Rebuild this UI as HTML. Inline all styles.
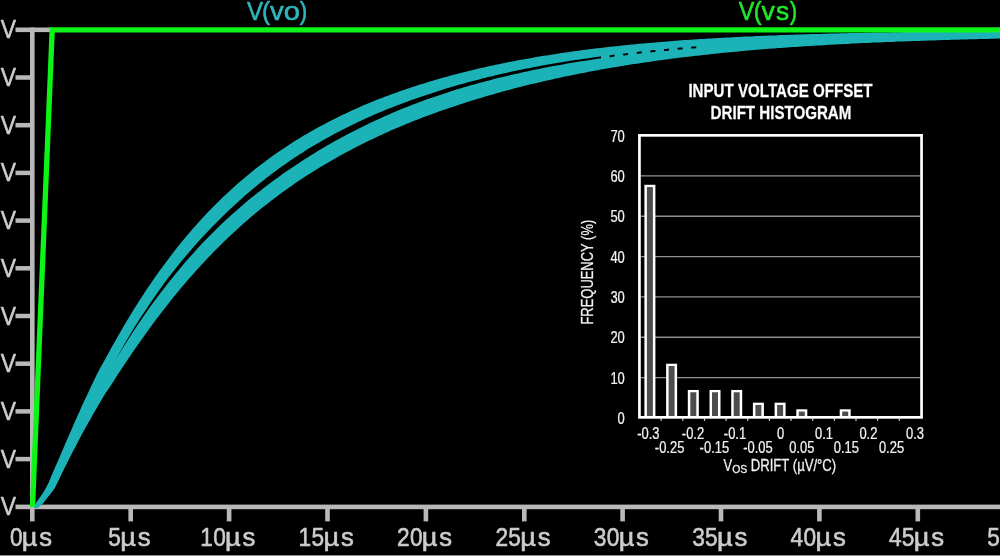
<!DOCTYPE html>
<html><head><meta charset="utf-8"><title>Settling time simulation with input voltage offset drift histogram</title>
<style>html,body{margin:0;padding:0;background:#000;}body{width:1000px;height:556px;overflow:hidden;font-family:"Liberation Sans",sans-serif;}svg{display:block;}</style>
</head><body>
<svg width="1000" height="556" viewBox="0 0 1000 556">
<defs><filter id="tn" x="-2%" y="-2%" width="104%" height="104%" color-interpolation-filters="sRGB"><feGaussianBlur stdDeviation="0.2"/></filter></defs>
<rect width="1000" height="556" fill="#000"/>
<g>
<g fill="#b9b9b9">
<rect x="15.5" y="504.6" width="985" height="4.6"/>
<rect x="30" y="27.6" width="4.6" height="493.8"/>
<rect x="15.5" y="27.5" width="36.5" height="4.6"/>
<rect x="15.5" y="75.25" width="15.5" height="4.5"/>
<rect x="15.5" y="122.95" width="15.5" height="4.5"/>
<rect x="15.5" y="170.65" width="15.5" height="4.5"/>
<rect x="15.5" y="218.35" width="15.5" height="4.5"/>
<rect x="15.5" y="266.05" width="15.5" height="4.5"/>
<rect x="15.5" y="313.75" width="15.5" height="4.5"/>
<rect x="15.5" y="361.45" width="15.5" height="4.5"/>
<rect x="15.5" y="409.15" width="15.5" height="4.5"/>
<rect x="15.5" y="456.85" width="15.5" height="4.5"/>
<rect x="128.4" y="507" width="4.6" height="14.4"/>
<rect x="226.8" y="507" width="4.6" height="14.4"/>
<rect x="325.2" y="507" width="4.6" height="14.4"/>
<rect x="423.6" y="507" width="4.6" height="14.4"/>
<rect x="522.0" y="507" width="4.6" height="14.4"/>
<rect x="620.3" y="507" width="4.6" height="14.4"/>
<rect x="718.7" y="507" width="4.6" height="14.4"/>
<rect x="817.1" y="507" width="4.6" height="14.4"/>
<rect x="915.5" y="507" width="4.6" height="14.4"/>
<rect x="1013.9" y="507" width="4.6" height="14.4"/>
</g>
<path d="M33.8,507.5 L36.8,501.6 L39.8,497.5 L42.8,493.3 L45.8,488.3 L48.8,482.2 L51.8,475.1 L54.8,468.1 L57.8,461.2 L60.8,454.2 L63.8,447.2 L66.8,440.2 L69.8,433.4 L72.8,426.6 L75.8,419.8 L78.8,412.9 L81.8,406.3 L84.8,399.8 L87.8,393.4 L90.8,387.1 L93.8,380.8 L96.8,374.6 L99.8,368.7 L102.8,363.5 L105.8,358.1 L108.8,352.5 L111.8,347.1 L114.8,341.7 L117.8,336.4 L120.8,331.2 L123.8,326.1 L126.8,321.0 L129.8,316.0 L132.8,311.1 L135.8,306.3 L138.8,301.6 L141.8,296.9 L144.8,292.3 L147.8,287.8 L150.8,283.4 L153.8,279.1 L156.8,274.8 L159.8,270.6 L162.8,266.4 L165.8,262.4 L168.8,258.4 L171.8,254.4 L174.8,250.6 L177.8,246.8 L180.8,243.1 L183.8,239.4 L186.8,235.8 L189.8,232.3 L192.8,228.8 L195.8,225.4 L198.8,222.0 L201.8,218.7 L204.8,215.5 L207.8,212.3 L210.8,209.2 L213.8,206.2 L216.8,203.2 L219.8,200.2 L222.8,197.3 L225.8,194.4 L228.8,191.7 L231.8,188.9 L234.8,186.2 L237.8,183.5 L240.8,180.9 L243.8,178.4 L246.8,175.9 L249.8,173.4 L252.8,171.0 L255.8,168.6 L258.8,166.3 L261.8,164.0 L264.8,161.7 L267.8,159.5 L270.8,157.3 L273.8,155.1 L276.8,153.0 L279.8,151.0 L282.8,148.9 L285.8,146.9 L288.8,145.0 L291.8,143.0 L294.8,141.1 L297.8,139.3 L300.8,137.4 L303.8,135.6 L306.8,133.9 L309.8,132.1 L312.8,130.4 L315.8,128.7 L318.8,127.1 L321.8,125.5 L324.8,123.9 L327.8,122.3 L330.8,120.7 L333.8,119.2 L336.8,117.7 L339.8,116.2 L342.8,114.8 L345.8,113.4 L348.8,112.0 L351.8,110.6 L354.8,109.2 L357.8,107.9 L360.8,106.6 L363.8,105.3 L366.8,104.0 L369.8,102.8 L372.8,101.5 L375.8,100.3 L378.8,99.1 L381.8,98.0 L384.8,96.8 L387.8,95.7 L390.8,94.6 L393.8,93.5 L396.8,92.4 L399.8,91.3 L402.8,90.3 L405.8,89.2 L408.8,88.2 L411.8,87.2 L414.8,86.2 L417.8,85.3 L420.8,84.3 L423.8,83.4 L426.8,82.5 L429.8,81.6 L432.8,80.7 L435.8,79.8 L438.8,78.9 L441.8,78.1 L444.8,77.2 L447.8,76.4 L450.8,75.6 L453.8,74.8 L456.8,74.0 L459.8,73.2 L462.8,72.5 L465.8,71.7 L468.8,71.0 L471.8,70.2 L474.8,69.5 L477.8,68.8 L480.8,68.1 L483.8,67.4 L486.8,66.8 L489.8,66.1 L492.8,65.4 L495.8,64.8 L498.8,64.2 L501.8,63.6 L504.8,62.9 L507.8,62.3 L510.8,61.7 L513.8,61.2 L516.8,60.6 L519.8,60.0 L522.8,59.5 L525.8,58.9 L528.8,58.4 L531.8,57.9 L534.8,57.3 L537.8,56.8 L540.8,56.3 L543.8,55.8 L546.8,55.4 L549.8,54.9 L552.8,54.4 L555.8,53.9 L558.8,53.5 L561.8,53.0 L564.8,52.6 L567.8,52.2 L570.8,51.7 L573.8,51.3 L576.8,50.9 L579.8,50.5 L582.8,50.1 L585.8,49.7 L588.8,49.3 L591.8,49.0 L594.8,48.6 L597.8,48.2 L600.8,47.9 L603.8,47.5 L606.8,47.2 L609.8,46.8 L612.8,46.5 L615.8,46.2 L618.8,45.9 L621.8,45.6 L624.8,45.2 L627.8,44.9 L630.8,44.6 L633.8,44.4 L636.8,44.1 L639.8,43.8 L642.8,43.5 L645.8,43.2 L648.8,43.0 L651.8,42.7 L654.8,42.4 L657.8,42.2 L660.8,41.9 L663.8,41.7 L666.8,41.5 L669.8,41.2 L672.8,41.0 L675.8,40.8 L678.8,40.6 L681.8,40.3 L684.8,40.1 L687.8,39.9 L690.8,39.7 L693.8,39.5 L696.8,39.3 L699.8,39.1 L702.8,38.9 L705.8,38.7 L708.8,38.6 L711.8,38.4 L714.8,38.2 L717.8,38.0 L720.8,37.9 L723.8,37.7 L726.8,37.5 L729.8,37.4 L732.8,37.2 L735.8,37.1 L738.8,36.9 L741.8,36.8 L744.8,36.6 L747.8,36.5 L750.8,36.4 L753.8,36.2 L756.8,36.1 L759.8,36.0 L762.8,35.8 L765.8,35.7 L768.8,35.6 L771.8,35.5 L774.8,35.4 L777.8,35.3 L780.8,35.1 L783.8,35.0 L786.8,34.9 L789.8,34.8 L792.8,34.7 L795.8,34.6 L798.8,34.5 L801.8,34.4 L804.8,34.3 L807.8,34.2 L810.8,34.1 L813.8,34.1 L816.8,34.0 L819.8,33.9 L822.8,33.8 L825.8,33.7 L828.8,33.6 L831.8,33.6 L834.8,33.5 L837.8,33.4 L840.8,33.3 L843.8,33.3 L846.8,33.2 L849.8,33.1 L852.8,33.1 L855.8,33.0 L858.8,32.9 L861.8,32.9 L864.8,32.8 L867.8,32.7 L870.8,32.7 L873.8,32.6 L876.8,32.6 L879.8,32.5 L882.8,32.5 L885.8,32.4 L888.8,32.4 L891.8,32.3 L894.8,32.3 L897.8,32.2 L900.8,32.2 L903.8,32.1 L906.8,32.1 L909.8,32.0 L912.8,32.0 L915.8,31.9 L918.8,31.9 L921.8,31.9 L924.8,31.8 L927.8,31.8 L930.8,31.7 L933.8,31.7 L936.8,31.7 L939.8,31.6 L942.8,31.6 L945.8,31.5 L948.8,31.5 L951.8,31.5 L954.8,31.4 L957.8,31.4 L960.8,31.4 L963.8,31.3 L966.8,31.3 L969.8,31.3 L972.8,31.3 L975.8,31.2 L978.8,31.2 L981.8,31.2 L984.8,31.1 L987.8,31.1 L990.8,31.1 L993.8,31.1 L996.8,31.0 L999.8,31.0 L1002.8,31.0 L1005.8,31.0 L1005.8,38.4 L1002.8,38.5 L999.8,38.6 L996.8,38.6 L993.8,38.7 L990.8,38.8 L987.8,38.9 L984.8,39.0 L981.8,39.0 L978.8,39.1 L975.8,39.2 L972.8,39.3 L969.8,39.3 L966.8,39.4 L963.8,39.5 L960.8,39.6 L957.8,39.7 L954.8,39.8 L951.8,39.8 L948.8,39.9 L945.8,40.0 L942.8,40.1 L939.8,40.2 L936.8,40.3 L933.8,40.4 L930.8,40.5 L927.8,40.6 L924.8,40.7 L921.8,40.8 L918.8,40.9 L915.8,41.0 L912.8,41.1 L909.8,41.2 L906.8,41.3 L903.8,41.4 L900.8,41.5 L897.8,41.6 L894.8,41.8 L891.8,41.9 L888.8,42.0 L885.8,42.1 L882.8,42.2 L879.8,42.4 L876.8,42.5 L873.8,42.6 L870.8,42.7 L867.8,42.9 L864.8,43.0 L861.8,43.1 L858.8,43.3 L855.8,43.4 L852.8,43.6 L849.8,43.7 L846.8,43.9 L843.8,44.0 L840.8,44.2 L837.8,44.3 L834.8,44.5 L831.8,44.7 L828.8,44.8 L825.8,45.0 L822.8,45.2 L819.8,45.4 L816.8,45.5 L813.8,45.7 L810.8,45.9 L807.8,46.1 L804.8,46.3 L801.8,46.5 L798.8,46.7 L795.8,46.9 L792.8,47.1 L789.8,47.3 L786.8,47.5 L783.8,47.7 L780.8,47.9 L777.8,48.1 L774.8,48.4 L771.8,48.6 L768.8,48.8 L765.8,49.1 L762.8,49.3 L759.8,49.6 L756.8,49.8 L753.8,50.1 L750.8,50.3 L747.8,50.6 L744.8,50.8 L741.8,51.1 L738.8,51.4 L735.8,51.7 L732.8,51.9 L729.8,52.2 L726.8,52.5 L723.8,52.8 L720.8,53.1 L717.8,53.4 L714.8,53.7 L711.8,54.0 L708.8,54.4 L705.8,54.7 L702.8,55.0 L699.8,55.4 L696.8,55.7 L693.8,56.0 L690.8,56.4 L687.8,56.7 L684.8,57.1 L681.8,57.5 L678.8,57.8 L675.8,58.2 L672.8,58.6 L669.8,59.0 L666.8,59.4 L663.8,59.8 L660.8,60.2 L657.8,60.6 L654.8,61.0 L651.8,61.4 L648.8,61.9 L645.8,62.3 L642.8,62.7 L639.8,63.2 L636.8,63.7 L633.8,64.1 L630.8,64.6 L627.8,65.1 L624.8,65.5 L621.8,66.0 L618.8,66.5 L615.8,67.0 L612.8,67.5 L609.8,68.0 L606.8,68.6 L603.8,69.1 L600.8,69.6 L597.8,70.2 L594.8,70.7 L591.8,71.3 L588.8,71.8 L585.8,72.4 L582.8,73.0 L579.8,73.6 L576.8,74.2 L573.8,74.8 L570.8,75.4 L567.8,76.0 L564.8,76.6 L561.8,77.3 L558.8,77.9 L555.8,78.6 L552.8,79.2 L549.8,79.9 L546.8,80.6 L543.8,81.3 L540.8,82.0 L537.8,82.7 L534.8,83.4 L531.8,84.1 L528.8,84.8 L525.8,85.6 L522.8,86.3 L519.8,87.1 L516.8,87.8 L513.8,88.6 L510.8,89.4 L507.8,90.2 L504.8,91.0 L501.8,91.8 L498.8,92.7 L495.8,93.5 L492.8,94.4 L489.8,95.2 L486.8,96.1 L483.8,97.0 L480.8,97.9 L477.8,98.8 L474.8,99.7 L471.8,100.6 L468.8,101.5 L465.8,102.5 L462.8,103.5 L459.8,104.4 L456.8,105.4 L453.8,106.4 L450.8,107.4 L447.8,108.5 L444.8,109.5 L441.8,110.5 L438.8,111.6 L435.8,112.7 L432.8,113.8 L429.8,114.9 L426.8,116.0 L423.8,117.1 L420.8,118.3 L417.8,119.5 L414.8,120.6 L411.8,121.8 L408.8,123.0 L405.8,124.3 L402.8,125.5 L399.8,126.8 L396.8,128.0 L393.8,129.3 L390.8,130.6 L387.8,132.0 L384.8,133.3 L381.8,134.7 L378.8,136.1 L375.8,137.5 L372.8,138.9 L369.8,140.3 L366.8,141.8 L363.8,143.2 L360.8,144.7 L357.8,146.3 L354.8,147.8 L351.8,149.4 L348.8,150.9 L345.8,152.5 L342.8,154.2 L339.8,155.8 L336.8,157.5 L333.8,159.2 L330.8,160.9 L327.8,162.7 L324.8,164.4 L321.8,166.2 L318.8,168.0 L315.8,169.9 L312.8,171.8 L309.8,173.7 L306.8,175.6 L303.8,177.5 L300.8,179.5 L297.8,181.5 L294.8,183.6 L291.8,185.7 L288.8,187.8 L285.8,189.9 L282.8,192.1 L279.8,194.3 L276.8,196.5 L273.8,198.7 L270.8,201.0 L267.8,203.4 L264.8,205.7 L261.8,208.1 L258.8,210.6 L255.8,213.1 L252.8,215.6 L249.8,218.1 L246.8,220.7 L243.8,223.3 L240.8,226.0 L237.8,228.7 L234.8,231.4 L231.8,234.2 L228.8,237.1 L225.8,239.9 L222.8,242.8 L219.8,245.8 L216.8,248.8 L213.8,251.8 L210.8,254.9 L207.8,258.0 L204.8,261.2 L201.8,264.5 L198.8,267.7 L195.8,271.0 L192.8,274.4 L189.8,277.8 L186.8,281.3 L183.8,284.8 L180.8,288.3 L177.8,292.0 L174.8,295.6 L171.8,299.3 L168.8,303.1 L165.8,306.9 L162.8,310.7 L159.8,314.7 L156.8,318.6 L153.8,322.6 L150.8,326.7 L147.8,330.8 L144.8,335.0 L141.8,339.2 L138.8,343.4 L135.8,347.7 L132.8,352.1 L129.8,356.5 L126.8,361.0 L123.8,365.5 L120.8,370.0 L117.8,374.6 L114.8,379.2 L111.8,384.0 L108.8,388.4 L105.8,392.8 L102.8,397.8 L99.8,402.8 L96.8,407.9 L93.8,413.1 L90.8,418.4 L87.8,423.7 L84.8,429.1 L81.8,434.6 L78.8,440.2 L75.8,445.9 L72.8,451.8 L69.8,457.6 L66.8,463.6 L63.8,469.6 L60.8,475.8 L57.8,482.1 L54.8,488.0 L51.8,492.3 L48.8,496.0 L45.8,499.8 L42.8,503.4 L39.8,506.2 L36.8,508.5Z" fill="#1bb3b8"/>
<path d="M116.0,359.2 L119.0,353.7 L122.0,348.4 L125.0,343.1 L128.0,338.0 L131.0,333.0 L134.0,328.1 L137.0,323.3 L140.0,318.6 L143.0,314.0 L146.0,309.4 L149.0,304.9 L152.0,300.5 L155.0,296.2 L158.0,291.9 L161.0,287.7 L164.0,283.6 L167.0,279.6 L170.0,275.6 L173.0,271.8 L176.0,268.0 L179.0,264.2 L182.0,260.6 L185.0,257.0 L188.0,253.4 L191.0,249.9 L194.0,246.5 L197.0,243.1 L200.0,239.8 L203.0,236.5 L206.0,233.3 L209.0,230.2 L212.0,227.0 L215.0,223.9 L218.0,220.9 L221.0,217.9 L224.0,215.0 L227.0,212.1 L230.0,209.2 L233.0,206.4 L236.0,203.7 L239.0,200.9 L242.0,198.3 L245.0,195.6 L248.0,193.0 L251.0,190.5 L254.0,188.0 L257.0,185.5 L260.0,183.1 L263.0,180.7 L266.0,178.3 L269.0,176.0 L272.0,173.7 L275.0,171.5 L278.0,169.3 L281.0,167.1 L284.0,165.0 L287.0,162.9 L290.0,160.8 L293.0,158.8 L296.0,156.8 L299.0,154.8 L302.0,152.9 L305.0,151.0 L308.0,149.1 L311.0,147.3 L314.0,145.5 L317.0,143.7 L320.0,142.0 L323.0,140.2 L326.0,138.6 L329.0,136.9 L332.0,135.3 L335.0,133.6 L338.0,132.1 L341.0,130.5 L344.0,129.0 L347.0,127.4 L350.0,126.0 L353.0,124.5 L356.0,123.0 L359.0,121.6 L362.0,120.2 L365.0,118.8 L368.0,117.5 L371.0,116.2 L374.0,114.8 L377.0,113.6 L380.0,112.3 L383.0,111.1 L386.0,109.8 L389.0,108.6 L392.0,107.4 L395.0,106.3 L398.0,105.1 L401.0,104.0 L404.0,102.8 L407.0,101.7 L410.0,100.6 L413.0,99.5 L416.0,98.5 L419.0,97.4 L422.0,96.4 L425.0,95.4 L428.0,94.4 L431.0,93.4 L434.0,92.4 L437.0,91.4 L440.0,90.5 L443.0,89.5 L446.0,88.6 L449.0,87.7 L452.0,86.8 L455.0,86.0 L458.0,85.1 L461.0,84.2 L464.0,83.4 L467.0,82.6 L470.0,81.8 L473.0,81.0 L476.0,80.2 L479.0,79.4 L482.0,78.6 L485.0,77.9 L488.0,77.1 L491.0,76.4 L494.0,75.7 L497.0,75.0 L500.0,74.3 L503.0,73.6 L506.0,72.9 L509.0,72.3 L512.0,71.6 L515.0,71.0 L518.0,70.3 L521.0,69.7 L524.0,69.1 L527.0,68.5 L530.0,67.9 L533.0,67.3 L536.0,66.8 L539.0,66.2 L542.0,65.6 L545.0,65.1 L548.0,64.6 L551.0,64.0 L554.0,63.5 L557.0,63.0 L560.0,62.5 L563.0,62.0 L566.0,61.5 L569.0,61.1 L572.0,60.6 L575.0,60.1 L578.0,59.7 L581.0,59.2 L584.0,58.8 L587.0,58.4 L590.0,57.9 L593.0,57.5 L596.0,57.1 L596.0,59.0 L593.0,59.5 L590.0,59.9 L587.0,60.4 L584.0,60.9 L581.0,61.3 L578.0,61.8 L575.0,62.3 L572.0,62.8 L569.0,63.3 L566.0,63.8 L563.0,64.4 L560.0,64.9 L557.0,65.5 L554.0,66.0 L551.0,66.6 L548.0,67.1 L545.0,67.7 L542.0,68.3 L539.0,68.9 L536.0,69.5 L533.0,70.1 L530.0,70.8 L527.0,71.4 L524.0,72.0 L521.0,72.7 L518.0,73.4 L515.0,74.1 L512.0,74.7 L509.0,75.4 L506.0,76.2 L503.0,76.9 L500.0,77.6 L497.0,78.3 L494.0,79.1 L491.0,79.9 L488.0,80.7 L485.0,81.4 L482.0,82.2 L479.0,83.1 L476.0,83.9 L473.0,84.7 L470.0,85.6 L467.0,86.5 L464.0,87.3 L461.0,88.2 L458.0,89.1 L455.0,90.1 L452.0,91.0 L449.0,91.9 L446.0,92.9 L443.0,93.9 L440.0,94.9 L437.0,95.9 L434.0,96.9 L431.0,98.0 L428.0,99.0 L425.0,100.1 L422.0,101.2 L419.0,102.3 L416.0,103.4 L413.0,104.6 L410.0,105.7 L407.0,106.9 L404.0,108.1 L401.0,109.3 L398.0,110.6 L395.0,111.8 L392.0,113.1 L389.0,114.4 L386.0,115.7 L383.0,117.1 L380.0,118.4 L377.0,119.8 L374.0,121.2 L371.0,122.6 L368.0,124.0 L365.0,125.5 L362.0,127.0 L359.0,128.4 L356.0,129.9 L353.0,131.5 L350.0,133.0 L347.0,134.6 L344.0,136.2 L341.0,137.8 L338.0,139.5 L335.0,141.1 L332.0,142.8 L329.0,144.5 L326.0,146.3 L323.0,148.0 L320.0,149.8 L317.0,151.6 L314.0,153.4 L311.0,155.3 L308.0,157.2 L305.0,159.1 L302.0,161.0 L299.0,163.0 L296.0,165.0 L293.0,167.0 L290.0,169.0 L287.0,171.1 L284.0,173.1 L281.0,175.3 L278.0,177.4 L275.0,179.6 L272.0,181.8 L269.0,184.0 L266.0,186.3 L263.0,188.6 L260.0,190.9 L257.0,193.3 L254.0,195.7 L251.0,198.1 L248.0,200.6 L245.0,203.1 L242.0,205.7 L239.0,208.2 L236.0,210.9 L233.0,213.5 L230.0,216.2 L227.0,219.0 L224.0,221.8 L221.0,224.6 L218.0,227.5 L215.0,230.4 L212.0,233.4 L209.0,236.4 L206.0,239.5 L203.0,242.6 L200.0,245.8 L197.0,249.1 L194.0,252.4 L191.0,255.7 L188.0,259.1 L185.0,262.6 L182.0,266.1 L179.0,269.7 L176.0,273.3 L173.0,277.0 L170.0,280.7 L167.0,284.5 L164.0,288.4 L161.0,292.2 L158.0,296.2 L155.0,300.2 L152.0,304.3 L149.0,308.5 L146.0,312.7 L143.0,317.0 L140.0,321.5 L137.0,325.9 L134.0,330.5 L131.0,335.1 L128.0,339.8 L125.0,344.5 L122.0,349.3 L119.0,354.2 L116.0,359.2Z" fill="#000"/>
<path d="M596.0,58.1 L598.0,57.8 L600.0,57.5 L602.0,57.2 L604.0,57.0 L606.0,56.7 L608.0,56.4 L610.0,56.2 L612.0,55.9 L614.0,55.6 L616.0,55.4 L618.0,55.1 L620.0,54.9 L622.0,54.6 L624.0,54.4 L626.0,54.2 L628.0,53.9 L630.0,53.7 L632.0,53.4 L634.0,53.2 L636.0,53.0 L638.0,52.8 L640.0,52.5 L642.0,52.3 L644.0,52.1 L646.0,51.9 L648.0,51.7 L650.0,51.5 L652.0,51.3 L654.0,51.1 L656.0,50.9 L658.0,50.7 L660.0,50.5 L662.0,50.3 L664.0,50.1 L666.0,49.9 L668.0,49.7 L670.0,49.5 L672.0,49.3 L674.0,49.1 L676.0,49.0 L678.0,48.8 L680.0,48.6 L682.0,48.4 L684.0,48.3 L686.0,48.1 L688.0,47.9 L690.0,47.8 L692.0,47.6 L694.0,47.4 L696.0,47.3 L698.0,47.1" fill="none" stroke="#000" stroke-width="2" stroke-dasharray="5 8.7"/>
<path d="M32.5,507 L52.2,29.8 L1006,29.8" fill="none" stroke="#0cf516" stroke-width="5.3" stroke-linejoin="miter"/>
<g font-family="Liberation Sans, sans-serif" font-size="26.4" fill="#cccccc" stroke="#cccccc" stroke-width="0.6" stroke-linejoin="round" filter="url(#tn)">
<text transform="translate(0.81 38.30) scale(0.868 1)">V</text>
<text transform="translate(0.81 86.00) scale(0.868 1)">V</text>
<text transform="translate(0.81 133.70) scale(0.868 1)">V</text>
<text transform="translate(0.81 181.40) scale(0.868 1)">V</text>
<text transform="translate(0.81 229.10) scale(0.868 1)">V</text>
<text transform="translate(0.81 276.80) scale(0.868 1)">V</text>
<text transform="translate(0.81 324.50) scale(0.868 1)">V</text>
<text transform="translate(0.81 372.20) scale(0.868 1)">V</text>
<text transform="translate(0.81 419.90) scale(0.868 1)">V</text>
<text transform="translate(0.81 467.60) scale(0.868 1)">V</text>
<text transform="translate(0.81 515.30) scale(0.868 1)">V</text>
<text transform="translate(9.90 546.4) scale(0.86 1)">0</text>
<text transform="translate(21.85 546.40) scale(1.029 1)">µ</text>
<text transform="translate(39.31 546.40) scale(0.971 1)">s</text>
<text transform="translate(108.29 546.4) scale(0.86 1)">5</text>
<text transform="translate(120.24 546.40) scale(1.029 1)">µ</text>
<text transform="translate(137.70 546.40) scale(0.971 1)">s</text>
<text transform="translate(200.23 546.4) scale(0.86 1)">1</text>
<text transform="translate(213.13 546.4) scale(0.86 1)">0</text>
<text transform="translate(225.08 546.40) scale(1.029 1)">µ</text>
<text transform="translate(242.54 546.40) scale(0.971 1)">s</text>
<text transform="translate(298.62 546.4) scale(0.86 1)">1</text>
<text transform="translate(311.52 546.4) scale(0.86 1)">5</text>
<text transform="translate(323.47 546.40) scale(1.029 1)">µ</text>
<text transform="translate(340.93 546.40) scale(0.971 1)">s</text>
<text transform="translate(397.01 546.4) scale(0.86 1)">2</text>
<text transform="translate(409.91 546.4) scale(0.86 1)">0</text>
<text transform="translate(421.86 546.40) scale(1.029 1)">µ</text>
<text transform="translate(439.32 546.40) scale(0.971 1)">s</text>
<text transform="translate(495.40 546.4) scale(0.86 1)">2</text>
<text transform="translate(508.30 546.4) scale(0.86 1)">5</text>
<text transform="translate(520.25 546.40) scale(1.029 1)">µ</text>
<text transform="translate(537.71 546.40) scale(0.971 1)">s</text>
<text transform="translate(593.79 546.4) scale(0.86 1)">3</text>
<text transform="translate(606.69 546.4) scale(0.86 1)">0</text>
<text transform="translate(618.64 546.40) scale(1.029 1)">µ</text>
<text transform="translate(636.10 546.40) scale(0.971 1)">s</text>
<text transform="translate(692.18 546.4) scale(0.86 1)">3</text>
<text transform="translate(705.08 546.4) scale(0.86 1)">5</text>
<text transform="translate(717.03 546.40) scale(1.029 1)">µ</text>
<text transform="translate(734.49 546.40) scale(0.971 1)">s</text>
<text transform="translate(790.57 546.4) scale(0.86 1)">4</text>
<text transform="translate(803.47 546.4) scale(0.86 1)">0</text>
<text transform="translate(815.42 546.40) scale(1.029 1)">µ</text>
<text transform="translate(832.88 546.40) scale(0.971 1)">s</text>
<text transform="translate(888.96 546.4) scale(0.86 1)">4</text>
<text transform="translate(901.86 546.4) scale(0.86 1)">5</text>
<text transform="translate(913.81 546.40) scale(1.029 1)">µ</text>
<text transform="translate(931.27 546.40) scale(0.971 1)">s</text>
<text transform="translate(987.35 546.4) scale(0.86 1)">5</text>
<text transform="translate(1000.25 546.4) scale(0.86 1)">0</text>
<text transform="translate(1012.20 546.40) scale(1.029 1)">µ</text>
<text transform="translate(1029.66 546.40) scale(0.971 1)">s</text>
</g>
<g font-family="Liberation Sans, sans-serif" font-size="26.4" stroke-width="0.6" stroke-linejoin="round" filter="url(#tn)">
<text transform="translate(246.90 19.70) scale(0.914 1)" fill="#2fb6bc" stroke="#2fb6bc">V</text>
<text transform="translate(261.98 19.70) scale(0.926 1)" fill="#2fb6bc" stroke="#2fb6bc">(</text>
<text transform="translate(270.12 19.70) scale(1.043 1)" fill="#2fb6bc" stroke="#2fb6bc">v</text>
<text transform="translate(283.67 19.70) scale(1.105 1)" fill="#2fb6bc" stroke="#2fb6bc">o</text>
<text transform="translate(299.69 19.70) scale(0.854 1)" fill="#2fb6bc" stroke="#2fb6bc">)</text>
<text transform="translate(738.71 19.70) scale(0.885 1)" fill="#1fe82a" stroke="#1fe82a">V</text>
<text transform="translate(753.63 19.70) scale(0.897 1)" fill="#1fe82a" stroke="#1fe82a">(</text>
<text transform="translate(761.62 19.70) scale(1.012 1)" fill="#1fe82a" stroke="#1fe82a">v</text>
<text transform="translate(775.89 19.70) scale(0.997 1)" fill="#1fe82a" stroke="#1fe82a">s</text>
<text transform="translate(789.69 19.70) scale(0.854 1)" fill="#1fe82a" stroke="#1fe82a">)</text>
</g>
</g>
<g>
<g stroke="#909090" stroke-width="1.4">
<line x1="640.8000000000001" x2="920.1999999999999" y1="377.6" y2="377.6"/>
<line x1="640.8000000000001" x2="920.1999999999999" y1="337.3" y2="337.3"/>
<line x1="640.8000000000001" x2="920.1999999999999" y1="296.9" y2="296.9"/>
<line x1="640.8000000000001" x2="920.1999999999999" y1="256.6" y2="256.6"/>
<line x1="640.8000000000001" x2="920.1999999999999" y1="216.2" y2="216.2"/>
<line x1="640.8000000000001" x2="920.1999999999999" y1="175.9" y2="175.9"/>
</g>
<rect x="644.40" y="184.78" width="11" height="232.92" fill="#fff"/>
<rect x="646.90" y="187.08" width="6.00" height="228.92" fill="#4d4d4d"/>
<rect x="666.10" y="363.73" width="11" height="53.97" fill="#fff"/>
<rect x="668.60" y="366.03" width="6.00" height="49.97" fill="#4d4d4d"/>
<rect x="687.80" y="389.96" width="11" height="27.74" fill="#fff"/>
<rect x="690.30" y="392.26" width="6.00" height="23.74" fill="#4d4d4d"/>
<rect x="709.50" y="389.96" width="11" height="27.74" fill="#fff"/>
<rect x="712.00" y="392.26" width="6.00" height="23.74" fill="#4d4d4d"/>
<rect x="731.20" y="389.96" width="11" height="27.74" fill="#fff"/>
<rect x="733.70" y="392.26" width="6.00" height="23.74" fill="#4d4d4d"/>
<rect x="752.90" y="402.67" width="11" height="15.03" fill="#fff"/>
<rect x="755.40" y="404.97" width="6.00" height="11.03" fill="#4d4d4d"/>
<rect x="774.60" y="402.67" width="11" height="15.03" fill="#fff"/>
<rect x="777.10" y="404.97" width="6.00" height="11.03" fill="#4d4d4d"/>
<rect x="796.30" y="409.28" width="11" height="8.42" fill="#fff"/>
<rect x="798.80" y="411.58" width="6.00" height="4.42" fill="#4d4d4d"/>
<rect x="839.70" y="409.28" width="11" height="8.42" fill="#fff"/>
<rect x="842.20" y="411.58" width="6.00" height="4.42" fill="#4d4d4d"/>
<rect x="639.45" y="135.35" width="282.10" height="282.00" fill="none" stroke="#fff" stroke-width="2.7"/>
<rect x="660.5" y="418.2" width="1.2" height="2.6" fill="#ddd"/>
<rect x="682.2" y="418.2" width="1.2" height="2.6" fill="#ddd"/>
<rect x="703.9" y="418.2" width="1.2" height="2.6" fill="#ddd"/>
<rect x="725.5" y="418.2" width="1.2" height="2.6" fill="#ddd"/>
<rect x="747.1" y="418.2" width="1.2" height="2.6" fill="#ddd"/>
<rect x="768.8" y="418.2" width="1.2" height="2.6" fill="#ddd"/>
<rect x="790.4" y="418.2" width="1.2" height="2.6" fill="#ddd"/>
<rect x="812.1" y="418.2" width="1.2" height="2.6" fill="#ddd"/>
<rect x="833.8" y="418.2" width="1.2" height="2.6" fill="#ddd"/>
<rect x="855.4" y="418.2" width="1.2" height="2.6" fill="#ddd"/>
<rect x="877.0" y="418.2" width="1.2" height="2.6" fill="#ddd"/>
<rect x="898.7" y="418.2" width="1.2" height="2.6" fill="#ddd"/>
<g font-family="Liberation Sans, sans-serif" stroke="#f2f2f2" stroke-width="0.25" filter="url(#tn)">
<text x="780.5" y="97.4" text-anchor="middle" font-size="18.4" font-weight="bold" fill="#fff" transform="translate(780.5 0) scale(0.822 1) translate(-780.5 0)">INPUT VOLTAGE OFFSET</text>
<text x="781.0" y="119.4" text-anchor="middle" font-size="18.4" font-weight="bold" fill="#fff" transform="translate(781.0 0) scale(0.822 1) translate(-781.0 0)">DRIFT HISTOGRAM</text>
<text x="624.8" y="424.0" text-anchor="end" font-size="16" font-weight="normal" fill="#f2f2f2" transform="translate(624.8 0) scale(0.81 1) translate(-624.8 0)">0</text>
<text x="624.8" y="383.6" text-anchor="end" font-size="16" font-weight="normal" fill="#f2f2f2" transform="translate(624.8 0) scale(0.81 1) translate(-624.8 0)">10</text>
<text x="624.8" y="343.3" text-anchor="end" font-size="16" font-weight="normal" fill="#f2f2f2" transform="translate(624.8 0) scale(0.81 1) translate(-624.8 0)">20</text>
<text x="624.8" y="302.9" text-anchor="end" font-size="16" font-weight="normal" fill="#f2f2f2" transform="translate(624.8 0) scale(0.81 1) translate(-624.8 0)">30</text>
<text x="624.8" y="262.6" text-anchor="end" font-size="16" font-weight="normal" fill="#f2f2f2" transform="translate(624.8 0) scale(0.81 1) translate(-624.8 0)">40</text>
<text x="624.8" y="222.2" text-anchor="end" font-size="16" font-weight="normal" fill="#f2f2f2" transform="translate(624.8 0) scale(0.81 1) translate(-624.8 0)">50</text>
<text x="624.8" y="181.9" text-anchor="end" font-size="16" font-weight="normal" fill="#f2f2f2" transform="translate(624.8 0) scale(0.81 1) translate(-624.8 0)">60</text>
<text x="624.8" y="141.6" text-anchor="end" font-size="16" font-weight="normal" fill="#f2f2f2" transform="translate(624.8 0) scale(0.81 1) translate(-624.8 0)">70</text>
<text x="648.4" y="438.6" text-anchor="middle" font-size="16" font-weight="normal" fill="#f2f2f2" transform="translate(648.4 0) scale(0.81 1) translate(-648.4 0)">-0.3</text>
<text x="693.0" y="438.6" text-anchor="middle" font-size="16" font-weight="normal" fill="#f2f2f2" transform="translate(693.0 0) scale(0.81 1) translate(-693.0 0)">-0.2</text>
<text x="735.0" y="438.6" text-anchor="middle" font-size="16" font-weight="normal" fill="#f2f2f2" transform="translate(735.0 0) scale(0.81 1) translate(-735.0 0)">-0.1</text>
<text x="780.5" y="438.6" text-anchor="middle" font-size="16" font-weight="normal" fill="#f2f2f2" transform="translate(780.5 0) scale(0.81 1) translate(-780.5 0)">0</text>
<text x="824.0" y="438.6" text-anchor="middle" font-size="16" font-weight="normal" fill="#f2f2f2" transform="translate(824.0 0) scale(0.81 1) translate(-824.0 0)">0.1</text>
<text x="868.4" y="438.6" text-anchor="middle" font-size="16" font-weight="normal" fill="#f2f2f2" transform="translate(868.4 0) scale(0.81 1) translate(-868.4 0)">0.2</text>
<text x="915.0" y="438.6" text-anchor="middle" font-size="16" font-weight="normal" fill="#f2f2f2" transform="translate(915.0 0) scale(0.81 1) translate(-915.0 0)">0.3</text>
<text x="669.6" y="453.4" text-anchor="middle" font-size="16" font-weight="normal" fill="#f2f2f2" transform="translate(669.6 0) scale(0.81 1) translate(-669.6 0)">-0.25</text>
<text x="714.4" y="453.4" text-anchor="middle" font-size="16" font-weight="normal" fill="#f2f2f2" transform="translate(714.4 0) scale(0.81 1) translate(-714.4 0)">-0.15</text>
<text x="757.9" y="453.4" text-anchor="middle" font-size="16" font-weight="normal" fill="#f2f2f2" transform="translate(757.9 0) scale(0.81 1) translate(-757.9 0)">-0.05</text>
<text x="801.9" y="453.4" text-anchor="middle" font-size="16" font-weight="normal" fill="#f2f2f2" transform="translate(801.9 0) scale(0.81 1) translate(-801.9 0)">0.05</text>
<text x="846.3" y="453.4" text-anchor="middle" font-size="16" font-weight="normal" fill="#f2f2f2" transform="translate(846.3 0) scale(0.81 1) translate(-846.3 0)">0.15</text>
<text x="891.5" y="453.4" text-anchor="middle" font-size="16" font-weight="normal" fill="#f2f2f2" transform="translate(891.5 0) scale(0.81 1) translate(-891.5 0)">0.25</text>
<text x="723.4" y="471.3" font-size="16" fill="#f2f2f2" transform="translate(723.4 0) scale(0.81 1) translate(-723.4 0)">V</text>
<text x="732.2" y="473.2" font-size="11.4" fill="#f2f2f2" transform="translate(732.2 0) scale(0.92 1) translate(-732.2 0)">OS</text>
<text x="750.7" y="471.3" font-size="16" fill="#f2f2f2" transform="translate(750.7 0) scale(0.822 1) translate(-750.7 0)">DRIFT (µV/°C)</text>
<text font-size="16" fill="#f2f2f2" text-anchor="middle" transform="translate(593.1 272.2) rotate(-90) scale(0.81 1)">FREQUENCY (%)</text>
</g>
</g>
<rect x="0" y="555" width="1000" height="1" fill="#8a8a8a"/>
</svg>
</body></html>
